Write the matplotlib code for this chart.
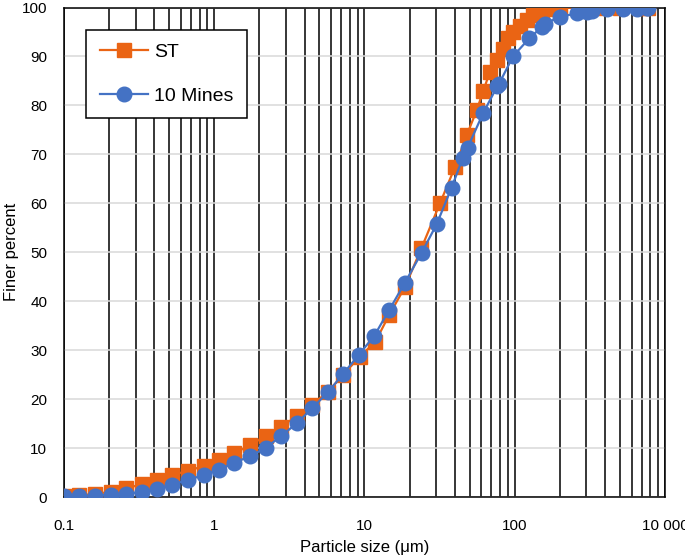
import matplotlib
matplotlib.use("Agg")
import matplotlib.pyplot as plt
from matplotlib.ticker import FixedLocator, LogLocator, NullFormatter

plt.rcParams['font.family'] = ['Liberation Sans', 'DejaVu Sans']

# Particle size distribution data
size_st = [0.1, 0.126, 0.161, 0.206, 0.259, 0.330, 0.416, 0.523, 0.669, 0.855,
           1.076, 1.353, 1.73, 2.21, 2.78, 3.55, 4.47, 5.71, 7.19, 9.3,
           11.8, 14.6, 18.6, 23.9, 31.8, 40.0, 47.9, 55.8, 61.8, 68.4,
           75.8, 83.9, 90.6, 97.8, 108, 120, 133, 151, 172, 200,
           272, 369, 501, 682, 771]
finer_st = [0.3, 0.4, 0.6, 1.1, 1.8, 2.6, 3.5, 4.4, 5.4, 6.3,
            7.6, 8.9, 10.6, 12.5, 14.4, 16.5, 18.8, 21.5, 24.9, 28.7,
            31.7, 37.2, 42.9, 50.8, 60.0, 67.4, 73.9, 79.0, 83.0, 86.9,
            89.3, 91.6, 93.7, 95.0, 96.3, 97.4, 98.4, 99.1, 99.6, 99.9,
            100, 100, 100, 100, 100]

size_mines = [0.1, 0.126, 0.161, 0.206, 0.259, 0.330, 0.416, 0.523, 0.669, 0.855,
              1.076, 1.353, 1.73, 2.21, 2.78, 3.55, 4.47, 5.71, 7.19, 9.19,
              11.6, 14.6, 18.6, 24.0, 30.2, 38.0, 45.0, 48.6, 61.8, 76.5,
              78.5, 97.8, 125, 151, 159, 200, 258, 301, 325, 409,
              523, 648, 756, 771]
finer_mines = [0.2, 0.2, 0.3, 0.5, 0.7, 1.0, 1.6, 2.5, 3.5, 4.5,
               5.6, 7.0, 8.3, 10.1, 12.4, 15.1, 18.1, 21.4, 25.1, 29.1,
               32.9, 38.2, 43.8, 49.9, 55.7, 63.2, 69.2, 71.4, 78.5, 83.9,
               84.4, 90.1, 93.7, 96.0, 96.7, 98.1, 98.8, 99.1, 99.2, 99.6,
               99.6, 99.6, 99.9, 100]

x_ticks = [0.1, 1, 10, 100, 1000]
x_ticklabels = ["0.1", "1", "10", "100", "10 000"]
y_ticks = list(range(0, 101, 10))

orange = "#EA6414"
blue = "#4472C4"

fig = plt.figure(figsize=(6.85, 5.57), dpi=100, facecolor="w")
ax = fig.add_axes([0.0934, 0.1077, 0.8774, 0.8788])

ax.plot(size_st, finer_st, c=orange, lw=1.6, marker='s', ms=9.5,
        mec=orange, mfc=orange, label="ST", zorder=3)
ax.plot(size_mines, finer_mines, c=blue, lw=1.6, marker='o', ms=10.5,
        mec=blue, mfc=blue, label="10 Mines", zorder=4)

ax.set_xscale('log')
ax.set_xlim(0.1, 1000)
ax.set_ylim(0, 100)
ax.xaxis.set_major_locator(FixedLocator(x_ticks))
ax.set_xticklabels(x_ticklabels)
ax.xaxis.set_minor_locator(LogLocator(base=10, subs=range(2, 10), numticks=20))
ax.xaxis.set_minor_formatter(NullFormatter())
ax.set_yticks(y_ticks)

ax.grid(axis='x', which='both', color='black', lw=1.1, zorder=1)
ax.grid(axis='y', which='major', color='#D9D9D9', lw=1.1, zorder=0)
ax.set_axisbelow(True)

ax.tick_params(axis='both', which='both', length=0, labelsize=11)
ax.tick_params(axis='x', pad=16)
ax.tick_params(axis='y', pad=12)
for s in ax.spines.values():
    s.set_color('black')
    s.set_linewidth(1.1)

ax.set_xlabel("Particle size (μm)", fontsize=12, labelpad=5)
ax.set_ylabel("Finer percent", fontsize=12)
ax.yaxis.set_label_coords(-0.075, 0.5)

leg = ax.legend(loc='upper left', bbox_to_anchor=(0.0366, 0.955), fontsize=14,
                frameon=True, fancybox=False, edgecolor='black', framealpha=1,
                handlelength=2.5, labelspacing=1.35, borderpad=0.7,
                handletextpad=0.3, borderaxespad=0)
leg.get_frame().set_linewidth(1.1)

plt.savefig("out.png", dpi=100, facecolor="w")
